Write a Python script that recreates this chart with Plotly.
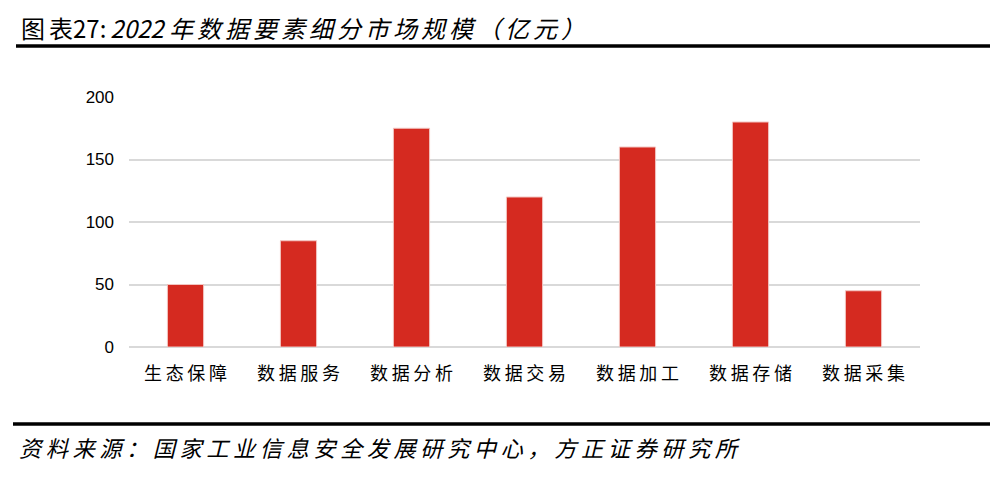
import plotly.graph_objects as go

categories = ["生态保障", "数据服务", "数据分析", "数据交易", "数据加工", "数据存储", "数据采集"]
values = [50, 85, 175, 120, 160, 180, 45]
y_ticks = [0, 50, 100, 150, 200]
title_prefix = "图表27:"
title_year = "2022"
title_main = "年数据要素细分市场规模（亿元）"
source_text = "资料来源：国家工业信息安全发展研究中心，方正证券研究所"

W, H = 990, 503
L, R, T, B = 129, 70, 97, 156
pw, ph = W - L - R, H - T - B

def px_x(x):
    return (x - L) / pw

def px_y(y):
    return (H - B - y) / ph

def spaced(s, sep="\u2009"):
    return sep.join(list(s))

fig = go.Figure(go.Bar(
    x=[spaced(c) for c in categories], y=values,
    marker=dict(color="#d52a20", line=dict(color="#f2c4c0", width=1)),
    width=0.32,
))

cjk = "Noto Sans CJK SC"
fig.update_layout(
    width=W, height=H,
    margin=dict(l=L, r=R, t=T, b=B, pad=0),
    paper_bgcolor="white", plot_bgcolor="white",
    showlegend=False,
    xaxis=dict(showgrid=False, showline=False, ticks="",
               tickfont=dict(family=cjk, size=18, color="#000"),
               ticklabelstandoff=14),
    yaxis=dict(range=[0, 200], tickvals=y_ticks, showgrid=True,
               gridcolor="#d9d9d9", gridwidth=1.5, zeroline=True,
               zerolinecolor="#d9d9d9", zerolinewidth=1.5,
               showline=False, ticks="",
               tickfont=dict(family="Liberation Sans, Arial", size=17, color="#000"),
               ticklabelstandoff=14),
    shapes=[
        dict(type="line", xref="paper", yref="paper",
             x0=px_x(16), x1=px_x(990), y0=px_y(46), y1=px_y(46),
             line=dict(color="#000", width=3.5)),
        dict(type="line", xref="paper", yref="paper",
             x0=px_x(13), x1=px_x(990), y0=px_y(424), y1=px_y(424),
             line=dict(color="#000", width=3.5)),
    ],
    annotations=[
        dict(text=spaced("图表", "\u2006") + "27:\u2006<i>" + title_year + "\u00a0" + spaced(title_main, "\u2006") + "</i>",
             xref="paper", yref="paper",
             x=px_x(19), y=px_y(27), xanchor="left", yanchor="middle",
             showarrow=False, font=dict(family=cjk, size=24, color="#000")),
        dict(text="<i>" + spaced(source_text) + "</i>", xref="paper", yref="paper",
             x=px_x(17), y=px_y(447), xanchor="left", yanchor="middle",
             showarrow=False, font=dict(family=cjk, size=22.3, color="#000")),
    ],
)

fig.write_html("out.html")
